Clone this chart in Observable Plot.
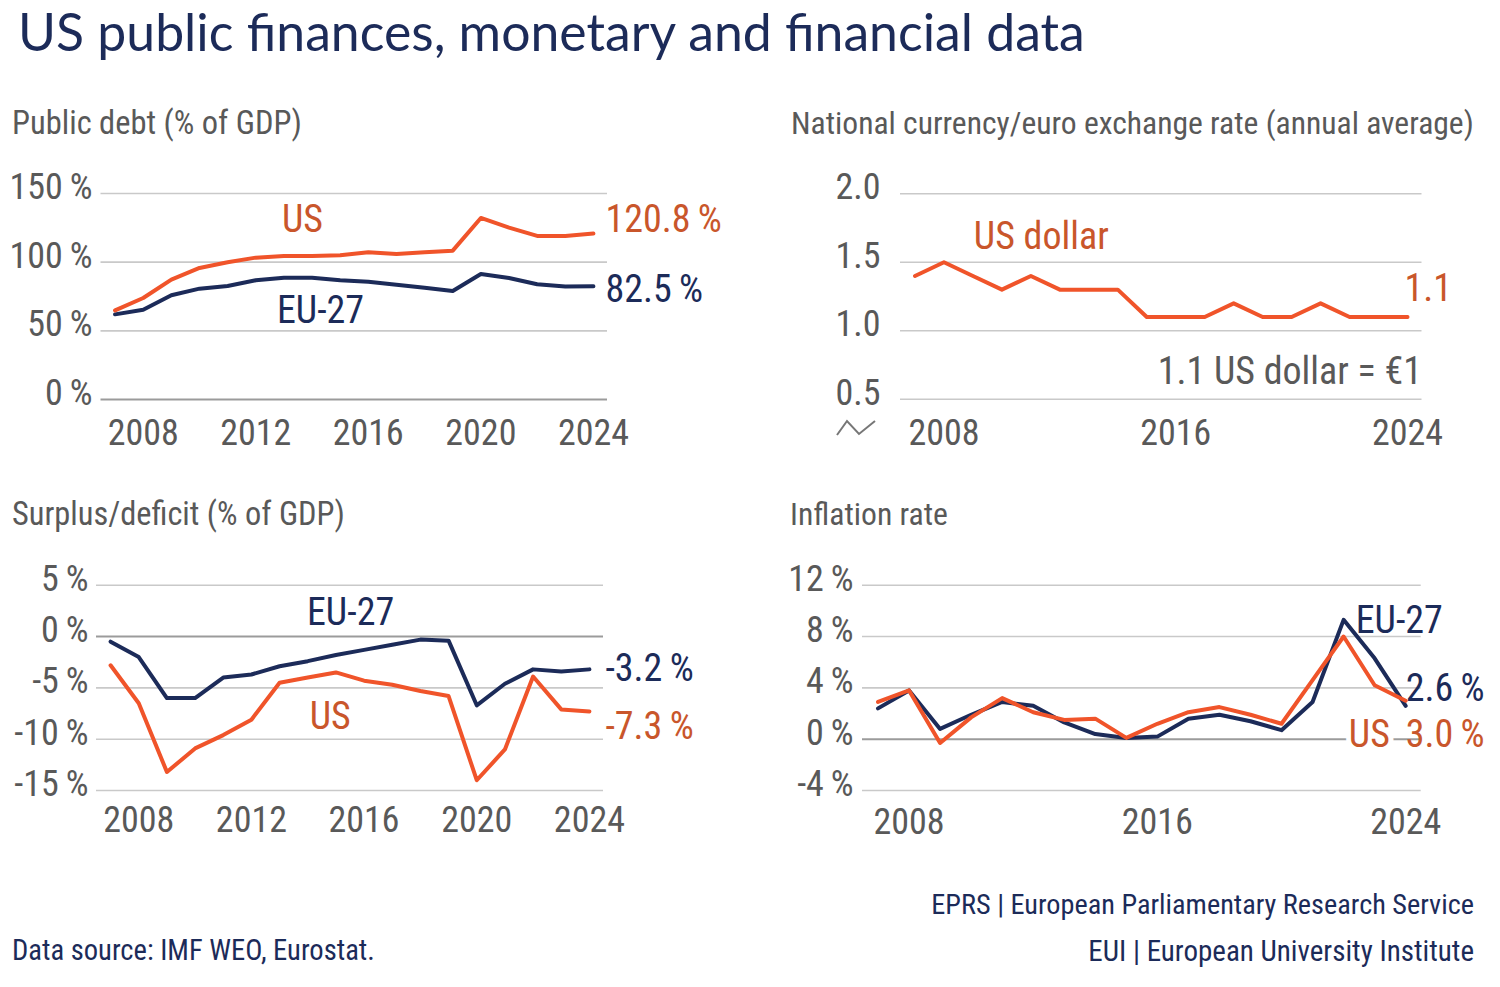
<!DOCTYPE html>
<html><head><meta charset="utf-8">
<script src="https://cdn.jsdelivr.net/npm/d3@7"></script>
<script src="https://cdn.jsdelivr.net/npm/@observablehq/plot@0.6"></script>
<style>
body{margin:0;background:#fff;}
#root{position:relative;width:1500px;height:987px;overflow:hidden;background:#fff;}
.t{position:absolute;white-space:nowrap;line-height:1;}
.p{position:absolute;}
.p svg{overflow:visible;}
</style></head><body><div id="root"></div>
<script>
// ---------- data ----------
const years = [2007,2008,2009,2010,2011,2012,2013,2014,2015,2016,2017,2018,2019,2020,2021,2022,2023,2024];
const debtUS = [64.9,73.9,87.3,95.8,99.9,103.3,104.5,104.5,105.0,107.2,106.0,107.2,108.4,132.2,125.2,119.1,119.1,120.8];
const debtEU = [62.0,65.4,75.9,80.7,82.7,86.8,88.7,88.7,86.8,85.8,83.6,81.4,79.0,91.4,88.5,83.9,82.2,82.5];
const fxUSD  = [1.4,1.5,1.4,1.3,1.4,1.3,1.3,1.3,1.1,1.1,1.1,1.2,1.1,1.1,1.2,1.1,1.1,1.1];
const balEU  = [-0.5,-2.0,-6.0,-6.0,-4.0,-3.7,-2.9,-2.4,-1.8,-1.3,-0.8,-0.3,-0.4,-6.7,-4.6,-3.2,-3.4,-3.2];
const balUS  = [-2.8,-6.5,-13.2,-10.9,-9.6,-8.1,-4.5,-4.0,-3.5,-4.3,-4.7,-5.3,-5.8,-14.0,-11.0,-3.9,-7.1,-7.3];
const infEU  = [2.4,3.8,0.8,1.9,2.9,2.6,1.3,0.4,0.1,0.2,1.6,1.9,1.4,0.7,2.9,9.3,6.3,2.6];
const infUS  = [2.9,3.8,-0.3,1.7,3.2,2.1,1.5,1.6,0.1,1.2,2.1,2.5,1.9,1.2,4.6,8.0,4.2,3.0];

const debtTicks = [0,50,100,150];
const fxTicks = [0.5,1.0,1.5,2.0];
const balTicks = [-15,-10,-5,0,5];
const infTicks = [-4,0,4,8,12];
const xTicksFull = [2008,2012,2016,2020,2024];
const xTicksSparse = [2008,2016,2024];

const titleText = "US public finances, monetary and financial data";
const panelTitles = ["Public debt (% of GDP)","National currency/euro exchange rate (annual average)","Surplus/deficit (% of GDP)","Inflation rate"];
const footerLines = ["EPRS | European Parliamentary Research Service","EUI | European University Institute"];
const sourceText = "Data source: IMF WEO, Eurostat.";

// ---------- style ----------
const NARROW = '"Roboto Condensed","DejaVu Sans Condensed",sans-serif';
const TITLEF = 'Lato,"Noto Sans",sans-serif';
const NAVY = '#1c2b59', ORANGE = '#f0542a', ORANGE_T = '#c9562b', GREY = '#595959', GRID = '#c9c9c9', ZERO = '#9b9b9b';
const TICK_FS = 36, LABEL_FS = 38;

const root = document.getElementById('root');

function addText(str, {x, cy, anchor='start', fs=38, color=GREY, font=NARROW, fit=null}) {
  const el = document.createElement('div');
  el.className = 't';
  el.textContent = str;
  el.style.fontFamily = font;
  el.style.color = color;
  el.style.fontSize = fs + 'px';
  root.appendChild(el);
  if (fit) {
    const w = el.getBoundingClientRect().width;
    fs = fs * fit / w;
    el.style.fontSize = fs + 'px';
  }
  const w = el.getBoundingClientRect().width;
  el.style.left = (anchor === 'end' ? x - w : x) + 'px';
  el.style.top = (cy - fs * 0.52) + 'px';
  return el;
}

const pct = d => (d < 0 ? '-' + Math.abs(d) : d) + '\u2009%';

function panel(cfg) {
  const data = [];
  cfg.series.forEach(s => s.values.forEach((v, i) => data.push({year: years[i], value: v, key: s.key})));
  const marks = [
    Plot.ruleY(cfg.yTicks.filter(d => d !== 0), {stroke: GRID, strokeWidth: 1.6}),
    Plot.ruleY(cfg.yTicks.filter(d => d === 0), {stroke: cfg.zeroColor || ZERO, strokeWidth: 2}),
    Plot.axisY(cfg.yTicks, {tickSize: 0, tickPadding: cfg.ytp, tickFormat: cfg.yFmt, dy: -6, fill: GREY, fontSize: TICK_FS}),
    Plot.axisX(cfg.xTicks, {tickSize: 0, tickPadding: cfg.xtp, tickFormat: d => String(d), fill: GREY, fontSize: TICK_FS}),
    ...cfg.series.map(s => Plot.line(data.filter(d => d.key === s.key), {x: 'year', y: 'value', stroke: s.color, strokeWidth: 4})),
  ];
  for (const anchor of ['start', 'middle', 'end']) {
    const L = cfg.labels.filter(l => l.anchor === anchor);
    if (!L.length) continue;
    marks.push(Plot.text(L, {x: 'x', y: 'y', text: 'text', fill: 'color', dx: 'dx' in L[0] ? L[0].dx : 0,
      textAnchor: anchor, fontSize: LABEL_FS, stroke: 'halo', strokeWidth: 10}));
  }
  const svg = Plot.plot({
    width: cfg.width, height: cfg.height,
    marginLeft: cfg.ml, marginRight: cfg.mr, marginTop: cfg.mt, marginBottom: cfg.mb,
    x: {domain: [2006.5, 2024.5]},
    y: {domain: cfg.yDomain},
    color: {type: 'identity'},
    style: {fontFamily: NARROW, fontSize: TICK_FS + 'px', color: GREY, background: 'transparent', overflow: 'visible'},
    marks
  });
  const wrap = document.createElement('div');
  wrap.className = 'p';
  wrap.style.left = cfg.left + 'px';
  wrap.style.top = cfg.top + 'px';
  wrap.appendChild(svg);
  root.appendChild(wrap);
}

// ---------- panel 1: public debt ----------
panel({
  left: 0, top: 170, width: 720, height: 290, ml: 100.5, mr: 113, mt: 23, mb: 61, ytp: 8.5, xtp: 20,
  yDomain: [0, 150], yTicks: debtTicks, yFmt: pct, xTicks: xTicksFull,
  series: [{key: 'EU', values: debtEU, color: NAVY}, {key: 'US', values: debtUS, color: ORANGE}],
  labels: [
    {text: 'US', x: 2013.66, y: 131, color: ORANGE_T, anchor: 'middle', halo: 'none'},
    {text: 'EU-27', x: 2014.3, y: 64.8, color: NAVY, anchor: 'middle', halo: 'none'},
    {text: '120.8\u2009%', x: 2024, y: 131, color: ORANGE_T, anchor: 'start', dx: 12, halo: 'none'},
    {text: '82.5\u2009%', x: 2024, y: 80.1, color: NAVY, anchor: 'start', dx: 12, halo: 'none'},
  ]
});

// ---------- panel 2: exchange rate ----------
panel({
  left: 780, top: 170, width: 720, height: 290, ml: 120, mr: 78.5, mt: 23.3, mb: 61.3, ytp: 20, xtp: 20,
  yDomain: [0.5, 2.0], yTicks: fxTicks, yFmt: d => d.toFixed(1), xTicks: xTicksSparse, zeroColor: GRID,
  series: [{key: 'US', values: fxUSD, color: ORANGE}],
  labels: [
    {text: 'US dollar', x: 2011.36, y: 1.688, color: ORANGE_T, anchor: 'middle', halo: 'none'},
    {text: '1.1', x: 2024, y: 1.306, color: ORANGE_T, anchor: 'start', dx: -3, halo: 'none'},
    {text: '1.1 US dollar = \u20ac1', x: 2024.5, y: 0.697, color: GREY, anchor: 'end', dx: 0, halo: 'none'},
  ]
});

// ---------- panel 3: surplus/deficit ----------
panel({
  left: 0, top: 560, width: 720, height: 290, ml: 96, mr: 117, mt: 24.7, mb: 60, ytp: 8, xtp: 16,
  yDomain: [-15, 5], yTicks: balTicks, yFmt: pct, xTicks: xTicksFull,
  series: [{key: 'EU', values: balEU, color: NAVY}, {key: 'US', values: balUS, color: ORANGE}],
  labels: [
    {text: 'EU-27', x: 2015.52, y: 2.34, color: NAVY, anchor: 'middle', halo: 'none'},
    {text: 'US', x: 2014.8, y: -7.79, color: ORANGE_T, anchor: 'middle', halo: 'none'},
    {text: '-3.2\u2009%', x: 2024, y: -3.12, color: NAVY, anchor: 'start', dx: 16, halo: 'none'},
    {text: '-7.3\u2009%', x: 2024, y: -8.76, color: ORANGE_T, anchor: 'start', dx: 16, halo: 'none'},
  ]
});

// ---------- panel 4: inflation ----------
panel({
  left: 780, top: 560, width: 720, height: 290, ml: 82, mr: 79.3, mt: 24.7, mb: 60, ytp: 9, xtp: 18,
  yDomain: [-4, 12], yTicks: infTicks, yFmt: pct, xTicks: xTicksSparse,
  series: [{key: 'EU', values: infEU, color: NAVY}, {key: 'US', values: infUS, color: ORANGE}],
  labels: [
    {text: 'EU-27', x: 2022.39, y: 9.25, color: NAVY, anchor: 'start', dx: 0, halo: 'none'},
    {text: '2.6\u2009%', x: 2024, y: 3.95, color: NAVY, anchor: 'start', dx: 6.5, halo: 'none'},
    {text: '3.0\u2009%', x: 2024, y: 0.37, color: ORANGE_T, anchor: 'start', dx: 6.5, halo: 'none'},
    {text: 'US', x: 2022.83, y: 0.37, color: ORANGE_T, anchor: 'middle', halo: 'white'},
  ]
});

// broken-axis symbol for the exchange-rate panel
const zz = document.createElementNS('http://www.w3.org/2000/svg', 'svg');
zz.setAttribute('width', 44); zz.setAttribute('height', 20);
zz.style.position = 'absolute'; zz.style.left = '835px'; zz.style.top = '418px';
zz.innerHTML = '<polyline points="2,17 12,3 24,16 40,3" fill="none" stroke="#777" stroke-width="2"/>';
root.appendChild(zz);

// ---------- texts ----------
addText(titleText, {x: 18, cy: 33, fs: 50, color: NAVY, font: TITLEF, fit: 1067});
addText(panelTitles[0], {x: 12, cy: 124, fs: 38, fit: 290});
addText(panelTitles[1], {x: 791, cy: 124, fs: 38, fit: 683});
addText(panelTitles[2], {x: 12, cy: 515, fs: 38, fit: 333});
addText(panelTitles[3], {x: 790, cy: 515, fs: 38, fit: 158});
addText(footerLines[0], {x: 1474, cy: 906, anchor: 'end', fs: 34, color: NAVY, fit: 543});
addText(footerLines[1], {x: 1474, cy: 952, anchor: 'end', fs: 34, color: NAVY, fit: 386});
addText(sourceText, {x: 12, cy: 951, fs: 34, color: NAVY, fit: 363});
</script></body></html>
